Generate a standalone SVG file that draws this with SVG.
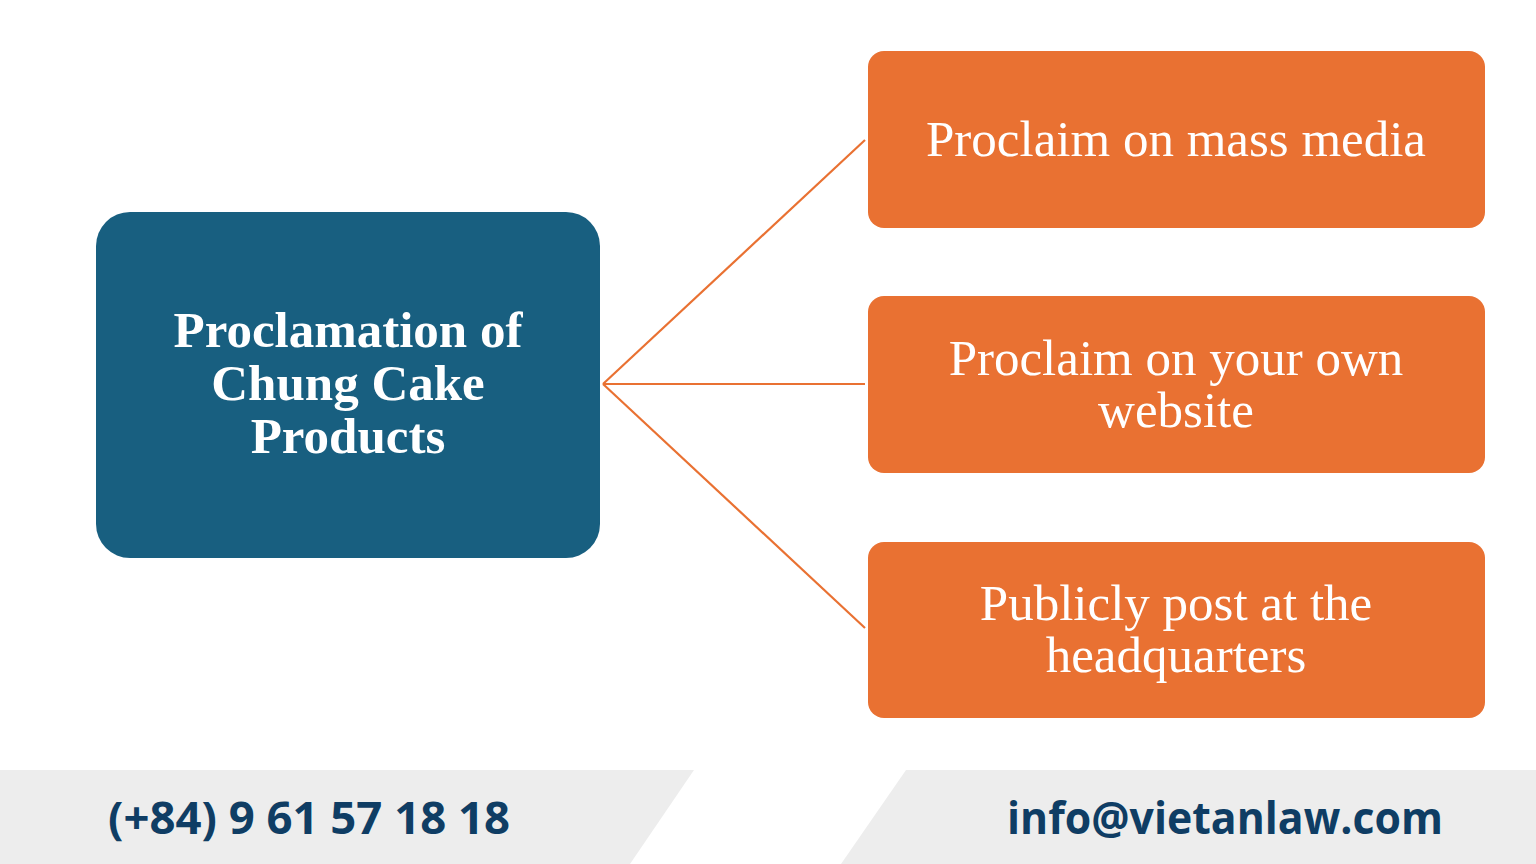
<svg xmlns="http://www.w3.org/2000/svg" width="1536" height="864" viewBox="0 0 1536 864">
<style>
.leaf rect{fill:#E97132;}
.leaf text{font-family:"Liberation Serif","Times New Roman",serif;font-size:51px;fill:#ffffff;text-anchor:middle;}
.root text{font-family:"Liberation Serif","Times New Roman",serif;font-size:51px;font-weight:bold;fill:#ffffff;text-anchor:middle;}
.conn line{stroke:#E97132;stroke-width:2.2;fill:none;}
.band{fill:#EDEDED;}
.foot{font-family:"Open Sans","Liberation Sans",sans-serif;font-weight:bold;font-size:45px;fill:#0F3D64;}
</style>
<rect width="1536" height="864" fill="#ffffff"/>
<g id="footer">
<polygon class="band" points="0,770 694,770 630,864 0,864"/>
<polygon class="band" points="906,770 1536,770 1536,864 841,864"/>
<text class="foot" x="108" y="834" textLength="402" lengthAdjust="spacingAndGlyphs">(+84) 9 61 57 18 18</text>
<text class="foot" x="1007" y="834" textLength="436" lengthAdjust="spacingAndGlyphs">info@vietanlaw.com</text>
</g>
<g id="connectors" class="conn">
<line x1="603" y1="384" x2="865" y2="140"/>
<line x1="603" y1="384" x2="865" y2="384"/>
<line x1="603" y1="384" x2="865" y2="628"/>
</g>
<g id="root" class="root">
<rect x="96" y="212" width="504" height="346" rx="34" ry="34" fill="#185F80"/>
<text x="348" y="347">Proclamation of</text>
<text x="348" y="400">Chung Cake</text>
<text x="348" y="453">Products</text>
</g>
<g id="leaf1" class="leaf">
<rect x="868" y="51" width="617" height="177" rx="16" ry="16"/>
<text x="1176" y="156">Proclaim on mass media</text>
</g>
<g id="leaf2" class="leaf">
<rect x="868" y="296" width="617" height="177" rx="16" ry="16"/>
<text x="1176" y="375">Proclaim on your own</text>
<text x="1176" y="427">website</text>
</g>
<g id="leaf3" class="leaf">
<rect x="868" y="542" width="617" height="176" rx="16" ry="16"/>
<text x="1176" y="620">Publicly post at the</text>
<text x="1176" y="672">headquarters</text>
</g>
</svg>
